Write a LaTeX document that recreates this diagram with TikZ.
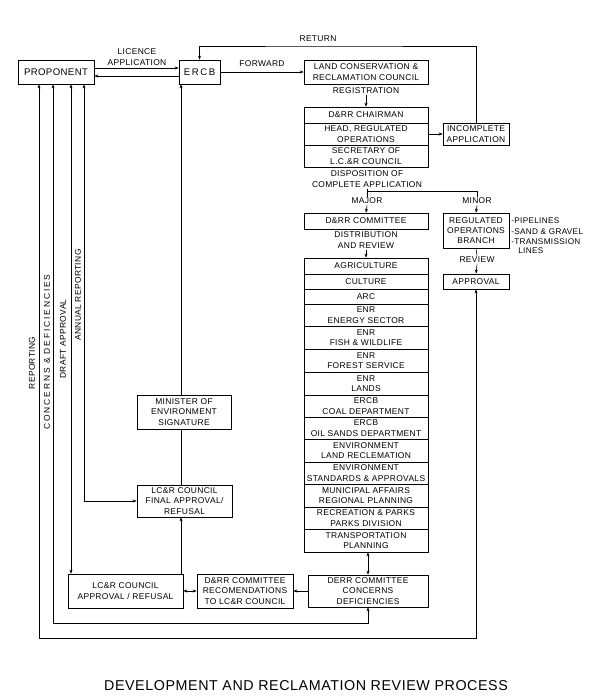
\documentclass[tikz,border=0pt]{standalone}
\usepackage{fontspec}
\newfontfamily\lettering[LetterSpace=4]{Liberation Sans}
\usetikzlibrary{arrows.meta,calc}
\newcommand{\px}{0.03cm}
\tikzset{
  box/.style={draw, align=center, inner sep=0pt, font=\lettering\fontsize{7.2}{8.8}\selectfont},
  boxdim/.style 2 args={minimum width=#1*\px, minimum height=#2*\px},
  lbl/.style={align=center, inner sep=1pt, font=\lettering\fontsize{7.2}{8.8}\selectfont},
  side/.style={anchor=west, inner sep=0pt, font=\lettering\fontsize{7}{8}\selectfont},
}
\begin{document}
\begin{tikzpicture}[x=\px, y=-\px, line width=0.5pt, >={Stealth[length=3.5pt,width=2.6pt]}]
    \useasboundingbox (0,0) rectangle (591,698);

    % top row
    \node[box, boxdim={76}{24}, font=\lettering\fontsize{8.2}{9}\selectfont] (prop) at (56,72) {PROPONENT};
    \node[box, boxdim={41}{24}, font=\lettering\fontsize{8.2}{9}\selectfont] (ercb) at (199.5,72) {E\,R\,C\,B};
    \node[box, boxdim={124}{24}] (lcrc) at (366,72) {LAND CONSERVATION \&\\RECLAMATION COUNCIL};
    \node[lbl] (licence) at (137,57) {LICENCE\\APPLICATION};
    \node[lbl] (fwd) at (262,64) {FORWARD};
    \node[lbl] (rtnlbl) at (318,39) {RETURN};

    % registration stack
    \node[lbl] (reg) at (366,91) {REGISTRATION};
    \node[box, boxdim={124}{16}] (chair) at (366,115) {D\&RR CHAIRMAN};
    \node[box, boxdim={124}{22}] (head) at (366,134) {HEAD, REGULATED\\OPERATIONS};
    \node[box, boxdim={124}{22}] (sec) at (366,156) {SECRETARY OF\\L.C.\&R COUNCIL};
    \node[box, boxdim={66}{22}] (incomplete) at (476,134) {INCOMPLETE\\APPLICATION};

    % disposition
    \node[lbl] (disp) at (367,179) {DISPOSITION OF\\COMPLETE APPLICATION};
    \node[lbl] (major) at (367,201) {MAJOR};
    \node[lbl] (minor) at (477,201) {MINOR};
    \node[box, boxdim={124}{16}] (drrc) at (366,221) {D\&RR COMMITTEE};
    \node[lbl] (dist) at (366,240) {DISTRIBUTION\\AND REVIEW};
    \node[box, boxdim={66}{35}] (rob) at (476,230.5) {REGULATED\\OPERATIONS\\BRANCH};
    \node[side] (pipe) at (511,221) {-PIPELINES};
    \node[side] (sand) at (511,232) {-SAND \& GRAVEL};
    \node[side] (trans) at (511,242) {-TRANSMISSION};
    \node[side] (lines) at (518,251) {LINES};
    \node[lbl] (rev) at (477,260) {REVIEW};
    \node[box, boxdim={66}{15}] (approval) at (476,281.5) {APPROVAL};

    % agencies
    \foreach \top/\bot/\txt [count=\i] in {
        258/274/AGRICULTURE, 274/289/CULTURE, 289/304/ARC,
        304/326/{ENR\\ENERGY SECTOR}, 326/349/{ENR\\FISH \& WILDLIFE},
        349/372/{ENR\\FOREST SERVICE}, 372/395/{ENR\\LANDS},
        395/417/{ERCB\\COAL DEPARTMENT}, 417/439/{ERCB\\OIL SANDS DEPARTMENT},
        439/462/{ENVIRONMENT\\LAND RECLEMATION}, 462/484/{ENVIRONMENT\\STANDARDS \& APPROVALS},
        484/507/{MUNICIPAL AFFAIRS\\REGIONAL PLANNING}, 507/529/{RECREATION \& PARKS\\PARKS DIVISION},
        529/552/{TRANSPORTATION\\PLANNING}}
        \node[box, minimum width=124*\px, minimum height={(\bot-\top)*\px}] (ag\i) at (366,{(\top+\bot)/2}) {\txt};

    % lower boxes
    \node[box, boxdim={120}{32}] (derr) at (368,591) {DERR COMMITTEE\\CONCERNS\\DEFICIENCIES};
    \node[box, boxdim={96}{34}] (recom) at (245,591) {D\&RR COMMITTEE\\RECOMENDATIONS\\TO LC\&R COUNCIL};
    \node[box, boxdim={115}{34}] (lcra) at (125.5,591) {LC\&R COUNCIL\\APPROVAL / REFUSAL};
    \node[box, boxdim={95}{32}] (final) at (184.5,501) {LC\&R COUNCIL\\FINAL APPROVAL/\\REFUSAL};
    \node[box, boxdim={94}{34}] (minister) at (184,412) {MINISTER OF\\ENVIRONMENT\\SIGNATURE};

    % side labels
    \node[lbl, rotate=90] (rptlbl) at (32,363) {REPORTING};
    \node[lbl, rotate=90, font=\lettering\fontsize{7.2}{8.8}\selectfont\addfontfeatures{LetterSpace=22}] (cnclbl) at (47,352) {CONCERNS \& DEFICIENCIES};
    \node[lbl, rotate=90] (dftlbl) at (63,339) {DRAFT APPROVAL};
    \node[lbl, rotate=90] (annlbl) at (78,295) {ANNUAL REPORTING};

    \node[font=\lettering\fontsize{12.2}{14}\selectfont] (title) at (306,686) {DEVELOPMENT AND RECLAMATION REVIEW PROCESS};

    % connectors
    \coordinate (rtn) at (330,46);
    \coordinate (split) at (367,191);
    \coordinate (rpt) at (39,638);
    \coordinate (cnc) at (53,623);
    \coordinate (dft) at (71,0);
    \coordinate (ann) at (84,0);
    \coordinate (sig) at (181,0);

    \draw[->] ($(prop.east)+(0,-4)$) -- ($(ercb.west)+(0,-4)$);
    \draw[->] ($(ercb.west)+(0,4)$) -- ($(prop.east)+(0,4)$);
    \draw[->] (ercb.east) -- (lcrc.west);
    \draw[->] (incomplete.north) |- (rtn) -| (ercb.north);
    \draw[->] (reg.south) -- (chair.north);
    \draw[->] (head.east) -- (incomplete.west);
    \draw (disp.south) -- (split) -| (minor.north);
    \draw (split) -- (major.north);
    \draw[->] (major.south) -- (drrc.north);
    \draw[->] (minor.south) -- (rob.north);
    \draw[->] (dist.south) -- (ag1.north);
    \draw (rob.south) -- (rev.north);
    \draw[->] (rev.south) -- (approval.north);
    \draw[<->] (ag14.south -| derr) -- (derr.north);
    \draw[->] (derr.west) -- (recom.east);
    \draw[<->] (recom.west) -- (lcra.east);
    \draw[->] (lcra.north -| sig) -- (final.south -| sig);
    \draw (final.north -| sig) -- (minister.south -| sig);
    \draw[->] (minister.north -| sig) -- (ercb.south -| sig);

    % return lines to the proponent
    \draw[<->] (prop.south -| rpt) -- (rpt) -| (approval.south);
    \draw[<->] (prop.south -| cnc) -- (cnc) -| (derr.south);
    \draw[<->] (prop.south -| dft) -- (lcra.north -| dft);
    \draw[<->] (prop.south -| ann) |- (final.west);
\end{tikzpicture}
\end{document}
